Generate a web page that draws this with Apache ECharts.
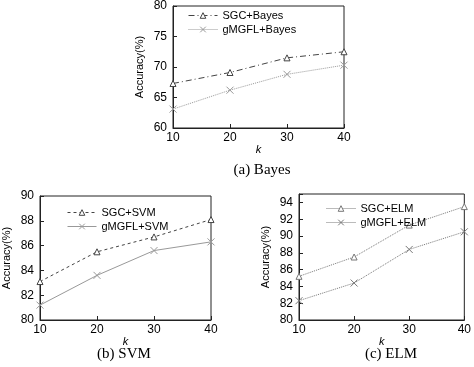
<!DOCTYPE html>
<html>
<head>
<meta charset="utf-8">
<script src="https://cdn.jsdelivr.net/npm/echarts@6/dist/echarts.min.js"></script>
<style>
  html, body { margin: 0; padding: 0; background: #fff; }
  #main { width: 474px; height: 367px; }
</style>
</head>
<body>
<div id="main"></div>
<script>
// 数据
var kValues = [10, 20, 30, 40]
var bayesSGC = [67.3, 69.1, 71.5, 72.5]
var bayesGMGFL = [63.1, 66.2, 68.8, 70.3]
var svmSGC = [83.1, 85.5, 86.7, 88.1]
var svmGMGFL = [81.2, 83.6, 85.6, 86.3]
var elmSGC = [85.2, 87.5, 91.3, 93.5]
var elmGMGFL = [82.3, 84.4, 88.4, 90.5]

var chart = echarts.init(document.getElementById('main'))

var crossSymbol = 'path://M0,0L10,10M10,0L0,10'
var sans = 'Liberation Sans'

function pairs(vals) {
    return kValues.map(function (k, i) { return [k, vals[i]] })
}

function xAxisOf(idx) {
    return {
        gridIndex: idx,
        type: 'value',
        min: 10, max: 40, interval: 10,
        name: 'k',
        nameLocation: 'middle',
        nameGap: 16,
        nameTextStyle: { fontStyle: 'italic', fontFamily: sans, fontSize: 11, color: '#000' },
        axisLine: { lineStyle: { color: '#222' } },
        axisTick: { inside: true, length: 4, lineStyle: { color: '#222' } },
        axisLabel: { color: '#000', fontFamily: sans, fontSize: 12, margin: 4 },
        splitLine: { show: false }
    }
}

function yAxisOf(idx, min, max, step) {
    return {
        gridIndex: idx,
        type: 'value',
        min: min, max: max, interval: step,
        name: 'Accuracy(%)',
        nameLocation: 'middle',
        nameGap: 28,
        nameTextStyle: { fontFamily: sans, fontSize: 11, color: '#000' },
        axisLine: { show: true, lineStyle: { color: '#222' } },
        axisTick: { show: true, inside: true, length: 4, lineStyle: { color: '#222' } },
        axisLabel: {
            color: '#000', fontFamily: sans, fontSize: 12, margin: 6,
            formatter: function (v) { return (v - min) % step === 0 ? v : '' }
        },
        splitLine: { show: false }
    }
}

function lineSeries(name, idx, vals, sym, color, type) {
    var isTri = sym === 'triangle'
    return {
        type: 'line',
        name: name,
        xAxisIndex: idx,
        yAxisIndex: idx,
        data: pairs(vals),
        symbol: sym,
        symbolSize: isTri ? 6 : 7,
        itemStyle: isTri
            ? { color: '#fff', borderColor: color, borderWidth: 1 }
            : { color: 'none', borderColor: color, borderWidth: 1 },
        lineStyle: { color: color, width: 1, type: type },
        animation: false
    }
}

function legendOf(names, left, top) {
    return {
        data: names,
        orient: 'vertical',
        left: left,
        top: top,
        itemWidth: 29,
        itemHeight: 7,
        itemGap: 3,
        itemStyle: { color: '#fff', borderWidth: 1 },
        lineStyle: { width: 1, type: 'inherit' },
        textStyle: { fontFamily: sans, fontSize: 11, color: '#000' },
        padding: 0
    }
}

var gridBox = { show: true, borderColor: '#222', borderWidth: 1, backgroundColor: 'transparent' }
var serifTitle = { fontFamily: 'Liberation Serif', fontSize: 15, fontWeight: 'normal', color: '#000' }

var option = {
    backgroundColor: '#fff',
    title: [
        { text: '(a) Bayes', left: 257, top: 158, textAlign: 'center', textStyle: serifTitle },
        { text: '(b) SVM', left: 119, top: 342, textAlign: 'center', textStyle: serifTitle },
        { text: '(c) ELM', left: 386, top: 342, textAlign: 'center', textStyle: serifTitle }
    ],
    grid: [
        Object.assign({ left: 173, top: 3, width: 171, height: 125 }, gridBox),
        Object.assign({ left: 40, top: 196, width: 171, height: 124 }, gridBox),
        Object.assign({ left: 299, top: 194, width: 171, height: 126 }, gridBox)
    ],
    legend: [
        legendOf(['SGC+Bayes', 'gMGFL+Bayes'], 188, 10),
        legendOf(['SGC+SVM', 'gMGFL+SVM'], 67, 207),
        legendOf(['SGC+ELM', 'gMGFL+ELM'], 326, 203)
    ],
    xAxis: [xAxisOf(0), xAxisOf(1), xAxisOf(2)],
    yAxis: [yAxisOf(0, 60, 80, 5), yAxisOf(1, 80, 90, 2), yAxisOf(2, 80, 95, 2)],
    series: [
        lineSeries('SGC+Bayes', 0, bayesSGC, 'triangle', '#444', [6, 3, 1, 3]),
        lineSeries('gMGFL+Bayes', 0, bayesGMGFL, crossSymbol, '#999', [1, 1]),
        lineSeries('SGC+SVM', 1, svmSGC, 'triangle', '#444', [3, 3]),
        lineSeries('gMGFL+SVM', 1, svmGMGFL, crossSymbol, '#999', 'solid'),
        lineSeries('SGC+ELM', 2, elmSGC, 'triangle', '#777', [1, 1]),
        lineSeries('gMGFL+ELM', 2, elmGMGFL, crossSymbol, '#777', [1, 1])
    ]
}

chart.setOption(option)
</script>
</body>
</html>
